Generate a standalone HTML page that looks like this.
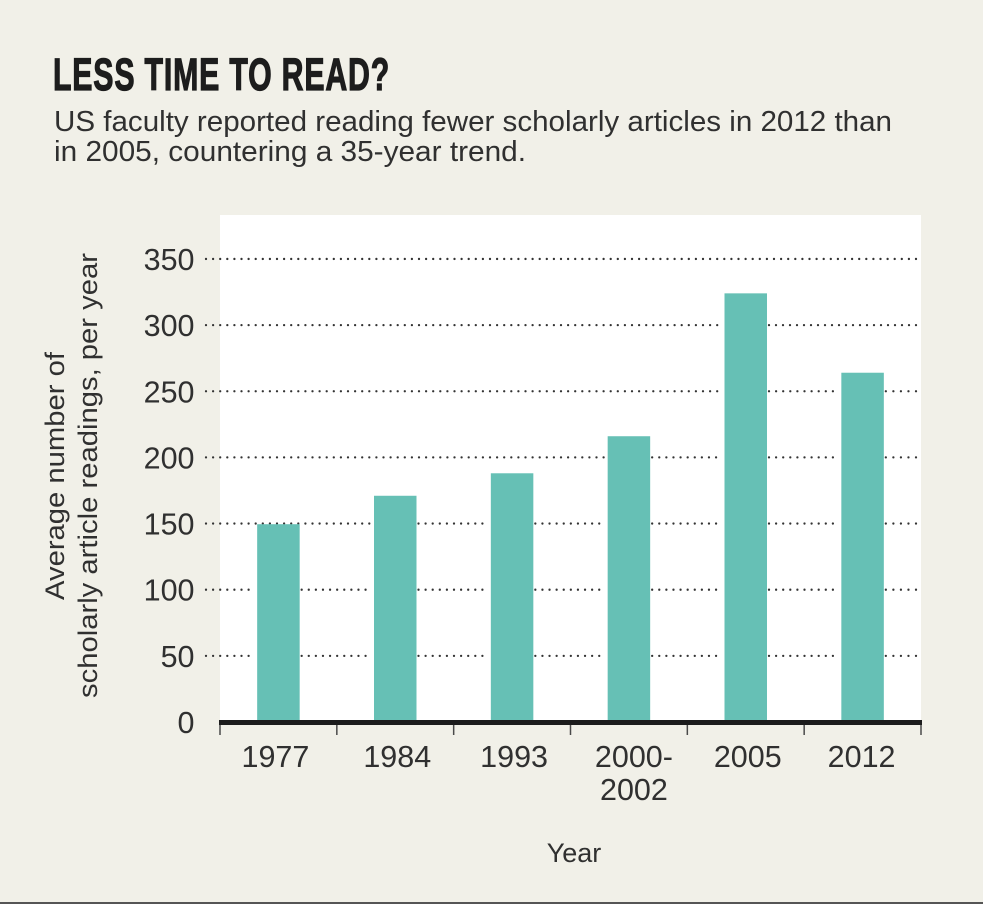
<!DOCTYPE html>
<html lang="en">
<head>
<meta charset="utf-8">
<title>Less time to read?</title>
<style>
html,body{margin:0;padding:0;background:#f1f0e8;}
svg{display:block;font-family:"Liberation Sans",sans-serif;}
text{fill:#303030;}
</style>
</head>
<body>
<svg id="chart" width="983" height="904" viewBox="0 0 983 904" xmlns="http://www.w3.org/2000/svg">
  <rect x="0" y="0" width="983" height="904" fill="#f1f0e8"/>
  <text x="53" y="90" font-size="45" font-weight="700" letter-spacing="1.2" textLength="337" lengthAdjust="spacingAndGlyphs" style="fill:#1d1d1d;stroke:#1d1d1d;stroke-width:1.2px">LESS TIME TO READ?</text>
  <text x="54" y="131" font-size="29" textLength="838" lengthAdjust="spacingAndGlyphs">US faculty reported reading fewer scholarly articles in 2012 than</text>
  <text x="54" y="161" font-size="29" textLength="472" lengthAdjust="spacingAndGlyphs">in 2005, countering a 35-year trend.</text>
  <rect x="220" y="215" width="701" height="506" fill="#ffffff"/>
  <g id="grid"></g>
  <g id="bars"></g>
  <g id="y-ticks"></g>
  <g id="x-axis"></g>
  <text transform="translate(64,600) rotate(-90)" font-size="27" textLength="248" lengthAdjust="spacingAndGlyphs">Average number of</text>
  <text transform="translate(97,698) rotate(-90)" font-size="27" textLength="445" lengthAdjust="spacingAndGlyphs">scholarly article readings, per year</text>
  <text x="574" y="862" font-size="27" text-anchor="middle">Year</text>
  <rect x="0" y="902" width="983" height="2" fill="#555555"/>
</svg>
<script>
const categories = ['1977', '1984', '1993', '2000-\n2002', '2005', '2012'];
const readings = [149.5, 171, 188, 216, 324, 264];
const yTicks = [0, 50, 100, 150, 200, 250, 300, 350];

const NS = 'http://www.w3.org/2000/svg';
const plotLeft = 220, plotRight = 921, baseY = 722, pxPerUnit = 66.15 / 50, barWidth = 42.5;
const gridStart = 206, gridEnd = 916, dotGap = 7.1;
const bandWidth = (plotRight - plotLeft) / categories.length;
const yScale = function (v) { return baseY - v * pxPerUnit; };
const xBand = function (i) { return plotLeft + i * bandWidth; };
const barCentre = function (i) { return xBand(i) + bandWidth / 2; };
const labelShift = function (i) { return i === 0 ? -3 : i === 3 ? 5 : i === 5 ? -1 : 2; };

function make(tag, parent, attrs) {
  const el = document.createElementNS(NS, tag);
  Object.keys(attrs).forEach(function (k) { el.setAttribute(k, attrs[k]); });
  parent.appendChild(el);
  return el;
}

const grid = document.getElementById('grid');
const bars = document.getElementById('bars');
const yTickGroup = document.getElementById('y-ticks');
const xAxis = document.getElementById('x-axis');

yTicks.forEach(function (t) {
  if (t > 0) {
    let start = gridStart;
    const drawSegment = function (x1, x2, gap) {
      const line = make('line', grid, { x1: x1, x2: x2 + 0.5, y1: yScale(t), y2: yScale(t), stroke: '#333333', 'stroke-width': 2.3, 'stroke-linecap': 'round', 'stroke-dasharray': '0 ' + gap });
      
      
    };
    readings.forEach(function (v, i) {
      if (v > t) {
        drawSegment(start, barCentre(i) - barWidth / 2 - 2, dotGap);
        start = barCentre(i) + barWidth / 2 + 2;
      }
    });
    const tail = gridEnd - start;
    drawSegment(start, gridEnd, tail / Math.round(tail / dotGap));
  }
  const label = make('text', yTickGroup, { x: 194.5, y: yScale(t) + 11, 'font-size': 30.5, 'text-anchor': 'end' });
  label.textContent = t;
  
  
});

readings.forEach(function (v, i) {
  const top = yScale(v);
  const bar = make('rect', bars, { x: barCentre(i) - barWidth / 2, y: top, width: barWidth, height: baseY - top, fill: '#66c0b5' });
  
  
});

for (let i = 0; i <= categories.length; i++) {
  const tick = make('line', xAxis, { x1: xBand(i), x2: xBand(i), y1: 722, y2: 735, stroke: '#4a4a4a', 'stroke-width': 1.5 });
  
  
}

const axisLine = make('rect', xAxis, { x: 219, y: 720, width: 703, height: 5, fill: '#1c1c1c' });



categories.forEach(function (c, i) {
  c.split('\n').forEach(function (part, j) {
    const label = make('text', xAxis, { x: barCentre(i) + labelShift(i), y: 767 + j * 33, 'font-size': 30.5, 'text-anchor': 'middle' });
    label.textContent = part;
    
    
  });
});
</script>
</body>
</html>
